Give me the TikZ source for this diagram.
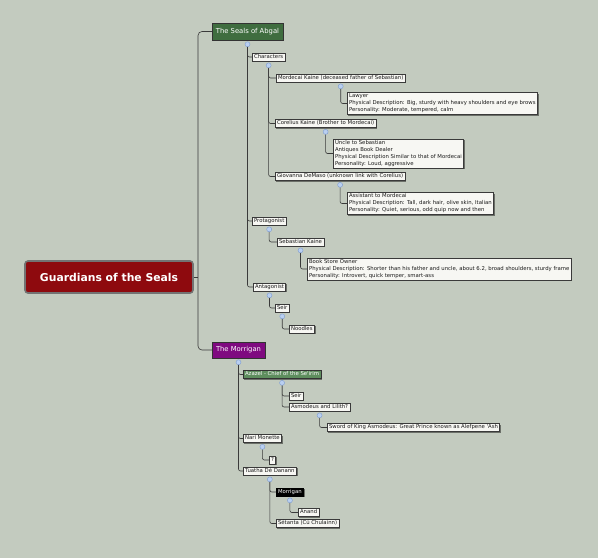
\documentclass[tikz,border=0pt]{standalone}
\usepackage{fontspec}
\usetikzlibrary{shadows}
\newfontfamily\mmfont{DejaVu Sans}
\definecolor{bgcol}{HTML}{C3CBBF}
\definecolor{rootred}{HTML}{8E0A0E}
\definecolor{sealgreen}{HTML}{3F6D3F}
\definecolor{azgreen}{HTML}{5E8E5E}
\definecolor{morpurple}{HTML}{7F0A80}
\definecolor{boxfill}{HTML}{F7F7F3}
\definecolor{linecol}{HTML}{3A3A3A}
\definecolor{handlefill}{HTML}{B9CFF0}
\definecolor{handledraw}{HTML}{7D9BD0}
\tikzset{
  shad/.style={drop shadow={shadow xshift=1.2pt,shadow yshift=-1.2pt,opacity=0.45,fill=black}},
  leaf/.style={shad,draw=linecol,line width=0.5pt,fill=boxfill,anchor=west,
    font=\mmfont\fontsize{5.35}{7}\selectfont,text=black!90,
    inner xsep=1.8pt,inner ysep=1.6pt,text height=3.9pt,text depth=1.1pt,align=left},
  multi/.style={leaf,text height=,text depth=},
  darkleaf/.style={leaf,text=white},
  topic/.style={shad,draw=black!80,line width=0.5pt,text=white,
    font=\mmfont\fontsize{6.8}{8}\selectfont,inner sep=0pt},
  rootbox/.style={draw=black!55,line width=1.6pt,rounded corners=3pt,fill=rootred,
    text=white,font=\mmfont\bfseries\fontsize{10.8}{12}\selectfont,inner sep=0pt,
    minimum width=168pt,minimum height=32pt},
  conn/.style={draw=linecol,line width=0.6pt,rounded corners=2pt},
  handle/.style={circle,draw=handledraw,fill=handlefill,line width=0.4pt,
    minimum size=5pt,inner sep=0pt},
}
\begin{document}
\begin{tikzpicture}[x=1pt,y=-1pt]
\fill[bgcol] (0,0) rectangle (598,558);
\useasboundingbox (0,0) rectangle (598,558);

% root
\node[rootbox] (root) at (109,277) {Guardians of the Seals};
% main topics
\node[topic,fill=sealgreen,minimum width=71pt,minimum height=17pt] (seals) at (247.5,31.5) {The Seals of Abgal};
\node[topic,fill=morpurple,minimum width=53pt,minimum height=16pt] (morrigan) at (238.5,350) {The Morrigan};

% The Seals of Abgal subtree
\node[leaf] (characters) at (252,57) {Characters};
\node[leaf] (mordecai) at (276,78) {Mordecai Kaine (deceased father of Sebastian)};
\node[multi] (lawyer) at (347,103.5) {Lawyer\\Physical Description: Big, sturdy with heavy shoulders and eye brows\\Personality: Moderate, tempered, calm};
\node[leaf] (corelius) at (275,123.5) {Corelius Kaine (Brother to Mordecai)};
\node[multi] (uncle) at (333,153.5) {Uncle to Sebastian\\Antiques Book Dealer\\Physical Description Similar to that of Mordecai\\Personality: Loud, aggressive};
\node[leaf] (giovanna) at (275,176.5) {Giovanna DeMaso (unknown link with Corelius)};
\node[multi] (assistant) at (347,203.5) {Assistant to Mordecai\\Physical Description: Tall, dark hair, olive skin, Italian\\Personality: Quiet, serious, odd quip now and then};
\node[leaf] (protagonist) at (252,221) {Protagonist};
\node[leaf] (sebastian) at (277,242) {Sebastian Kaine};
\node[multi] (bookstore) at (307,269) {Book Store Owner\\Physical Description: Shorter than his father and uncle, about 6.2, broad shoulders, sturdy frame\\Personality: Introvert, quick temper, smart-ass};
\node[leaf] (antagonist) at (253,287) {Antagonist};
\node[leaf] (seirA) at (275,308) {Seir};
\node[leaf] (noodles) at (289,329) {Noodles};

% The Morrigan subtree
\node[leaf,fill=azgreen,draw=black!80,text=white] (azazel) at (243,374.5) {Azazel - Chief of the Se'irim};
\node[leaf] (seirB) at (289,396) {Seir};
\node[leaf] (asmodeus) at (289,407) {Asmodeus and Lilith?};
\node[leaf] (sword) at (327,427.5) {Sword of King Asmodeus: Great Prince known as Alefpene 'Ash};
\node[leaf] (nari) at (243,438.5) {Nari Monette};
\node[leaf] (qmark) at (269,460) {?};
\node[leaf] (tuatha) at (243,471) {Tuatha Dé Danann};
\node[darkleaf,fill=black,draw=black] (morriganB) at (276,492) {Morrigan};
\node[leaf] (anand) at (298,512.5) {Anand};
\node[leaf] (setanta) at (276,523.5) {Sétanta (Cú Chulainn)};

% handle coordinates
\foreach \n in {seals,morrigan,characters,mordecai,corelius,giovanna,protagonist,sebastian,antagonist,seirA,azazel,asmodeus,nari,tuatha,morriganB}
  \coordinate (h-\n) at ([yshift=-4pt]\n.south);

% root connectors
\coordinate (bus) at (198,277);
\draw[conn,rounded corners=4pt] (seals.west) -| (bus) |- (morrigan.west);
\draw[conn] (root.east) -- (bus);

% child connectors
\draw[conn] (h-seals) |- (characters.west);
\draw[conn] (h-seals) |- (protagonist.west);
\draw[conn] (h-seals) |- (antagonist.west);
\draw[conn] (h-characters) |- (mordecai.west);
\draw[conn] (h-characters) |- (corelius.west);
\draw[conn] (h-characters) |- (giovanna.west);
\draw[conn] (h-mordecai) |- (lawyer.west);
\draw[conn] (h-corelius) |- (uncle.west);
\draw[conn] (h-giovanna) |- (assistant.west);
\draw[conn] (h-protagonist) |- (sebastian.west);
\draw[conn] (h-sebastian) |- (bookstore.west);
\draw[conn] (h-antagonist) |- (seirA.west);
\draw[conn] (h-seirA) |- (noodles.west);
\draw[conn] (h-morrigan) |- (azazel.west);
\draw[conn] (h-morrigan) |- (nari.west);
\draw[conn] (h-morrigan) |- (tuatha.west);
\draw[conn] (h-azazel) |- (seirB.west);
\draw[conn] (h-azazel) |- (asmodeus.west);
\draw[conn] (h-asmodeus) |- (sword.west);
\draw[conn] (h-nari) |- (qmark.west);
\draw[conn] (h-tuatha) |- (morriganB.west);
\draw[conn] (h-tuatha) |- (setanta.west);
\draw[conn] (h-morriganB) |- (anand.west);

% handles on top
\foreach \n in {seals,morrigan,characters,mordecai,corelius,giovanna,protagonist,sebastian,antagonist,seirA,azazel,asmodeus,nari,tuatha,morriganB}
  \node[handle] (hn-\n) at (h-\n) {};
\end{tikzpicture}
\end{document}
